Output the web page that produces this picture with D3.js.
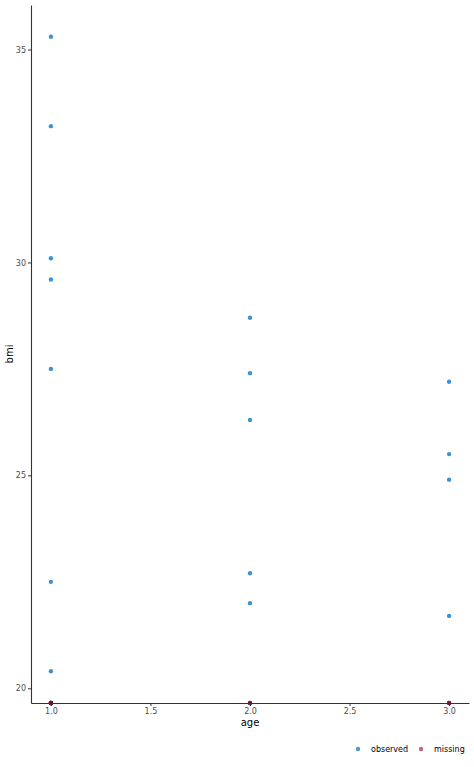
<!DOCTYPE html>
<html>
<head>
<meta charset="utf-8">
<script src="https://cdn.jsdelivr.net/npm/d3@7"></script>
<style>
  body { margin: 0; background: #fff; }
  text { font-family: "DejaVu Sans", sans-serif; }
</style>
</head>
<body>
<div id="chart"></div>
<script>
// données (nhanes) : âge et bmi, null = manquant
const ages = [1, 2, 1, 3, 1, 3, 1, 1, 2, 2, 1, 2, 3, 2, 1, 1, 3, 2, 1, 3, 1, 1, 1, 3, 2];
const bmis = [null, 22.7, null, null, 20.4, null, 22.5, 30.1, 22.0, null, null, null, 21.7,
              28.7, 29.6, null, 27.2, 26.3, 35.3, 25.5, null, 33.2, 27.5, 24.9, 27.4];
const xTicks = [1.0, 1.5, 2.0, 2.5, 3.0];
const yTicks = [20, 25, 30, 35];
const legendLabels = ["observed", "missing"];
const colours = { observed: "#006CC2", missing: "#B61A51" };

const width = 474;
const height = 767;
const margin = { top: 5, right: 5, bottom: 64, left: 31 };

const svg = d3.select("#chart").append("svg")
    .attr("width", width)
    .attr("height", height);

const observed = bmis.filter(d => d !== null);
const yMin = d3.min(observed), yMax = d3.max(observed);
const yPad = (yMax - yMin) * 0.05;

const x = d3.scaleLinear()
    .domain([0.9, 3.1])
    .range([margin.left, width - margin.right]);

const y = d3.scaleLinear()
    .domain([yMin - yPad, yMax + yPad])
    .range([height - margin.bottom, margin.top]);

const points = ages.map((a, i) => ({ age: a, bmi: bmis[i] }));

// points : les manquants sont posés sur l'axe (-Inf)
svg.append("g")
    .selectAll("circle")
    .data(points)
    .enter().append("circle")
    .attr("cx", d => x(d.age))
    .attr("cy", d => d.bmi === null ? y.range()[0] : y(d.bmi))
    .attr("r", 2.2)
    .attr("fill", d => d.bmi === null ? d3.color(colours.missing).darker(1.3) : colours.observed)
    .attr("fill-opacity", d => d.bmi === null ? 0.85 : 0.75);

// axes
const xAxis = svg.append("g")
    .attr("transform", `translate(0, ${height - margin.bottom})`)
    .call(d3.axisBottom(x).tickValues(xTicks).tickFormat(d3.format(".1f"))
        .tickSizeInner(3).tickSizeOuter(0).tickPadding(2));

const yAxis = svg.append("g")
    .attr("transform", `translate(${margin.left}, 0)`)
    .call(d3.axisLeft(y).tickValues(yTicks)
        .tickSizeInner(3).tickSizeOuter(0).tickPadding(2));

[xAxis, yAxis].forEach(g => {
    g.select(".domain").attr("stroke", "#333").attr("stroke-width", 1.1);
    g.selectAll(".tick line").attr("stroke", "#333");
    g.selectAll(".tick text").attr("fill", "#4d4d4d").attr("font-size", "8px");
});

// titres des axes
svg.append("text")
    .attr("x", (x.range()[0] + x.range()[1]) / 2)
    .attr("y", 726)
    .attr("text-anchor", "middle")
    .attr("font-size", "10px")
    .attr("fill", "#000")
    .text("age");

svg.append("text")
    .attr("transform", `translate(13, ${(y.range()[0] + y.range()[1]) / 2}) rotate(-90)`)
    .attr("text-anchor", "middle")
    .attr("font-size", "10px")
    .attr("fill", "#000")
    .text("bmi");

// légende
const legendX = [358, 421];
const legend = svg.append("g");
legendLabels.forEach((lab, i) => {
    legend.append("circle")
        .attr("cx", legendX[i])
        .attr("cy", 749)
        .attr("r", 2.2)
        .attr("fill", colours[lab])
        .attr("fill-opacity", 0.7);
    legend.append("text")
        .attr("x", legendX[i] + 13)
        .attr("y", 752)
        .attr("font-size", "8px")
        .attr("fill", "#000")
        .text(lab);
});
</script>
</body>
</html>
